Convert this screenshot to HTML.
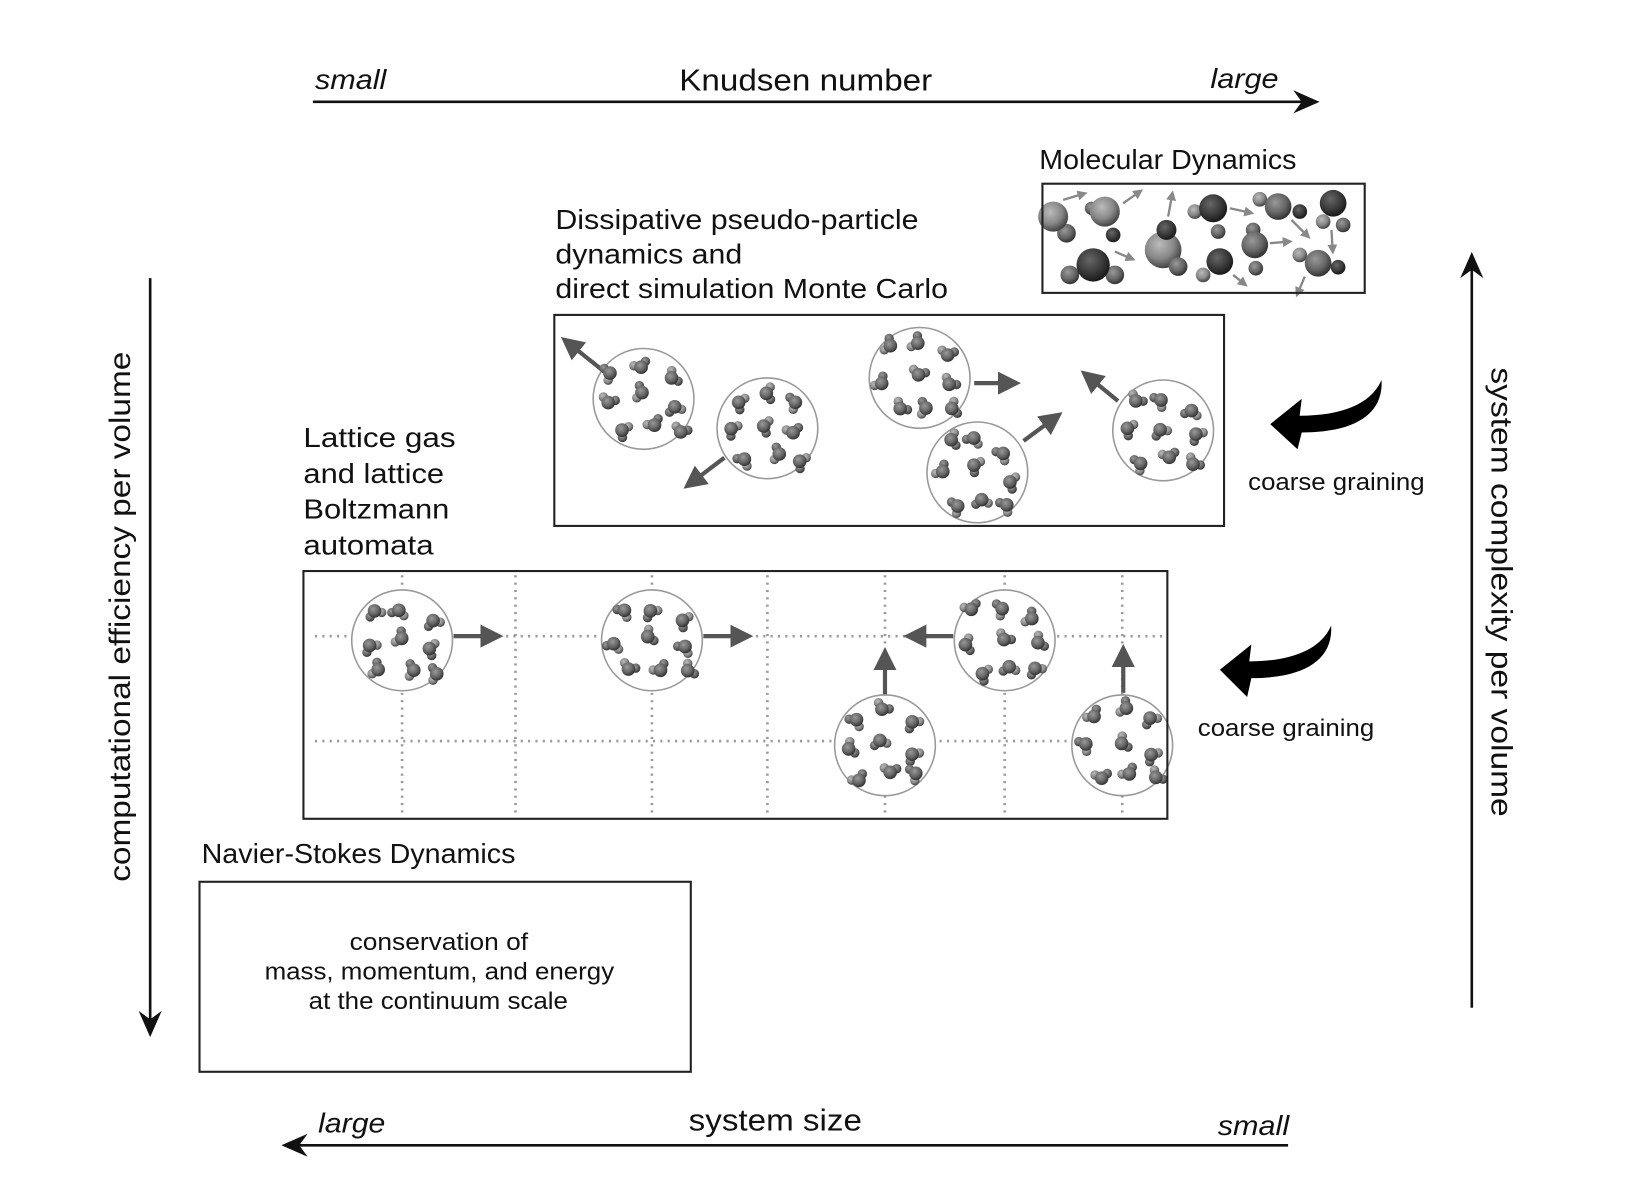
<!DOCTYPE html>
<html><head><meta charset="utf-8"><style>
html,body{margin:0;padding:0;background:#fff}
svg{display:block}
text{font-family:"Liberation Sans",sans-serif;fill:#111}
</style></head><body>
<svg id="s" xmlns="http://www.w3.org/2000/svg" width="1644" height="1203" viewBox="0 0 1566 1146">
<defs>
<radialGradient id="gL" cx="0.4" cy="0.35" r="0.65"><stop offset="0" stop-color="#bbb"/><stop offset="0.6" stop-color="#888"/><stop offset="1" stop-color="#444"/></radialGradient>
<radialGradient id="gM" cx="0.4" cy="0.35" r="0.65"><stop offset="0" stop-color="#999"/><stop offset="0.6" stop-color="#666"/><stop offset="1" stop-color="#333"/></radialGradient>
<radialGradient id="gD" cx="0.4" cy="0.35" r="0.65"><stop offset="0" stop-color="#666"/><stop offset="0.6" stop-color="#3a3a3a"/><stop offset="1" stop-color="#1a1a1a"/></radialGradient>
<marker id="ah2" viewBox="0 0 10 10" markerWidth="22" markerHeight="22" refX="2" refY="5" orient="auto" markerUnits="userSpaceOnUse"><path d="M0,0 L10,5 L0,10 Z" fill="#555"/></marker>
<marker id="ah3" viewBox="0 0 10 10" markerWidth="30" markerHeight="30" refX="2" refY="5" orient="auto" markerUnits="userSpaceOnUse"><path d="M0,0 L10,5 L0,10 Z" fill="#888"/></marker>
</defs>

<!-- top axis -->
<line x1="298" y1="97" x2="1250" y2="97" stroke="#111" stroke-width="2.5"/>
<path d="M1232,86 L1257,97 L1232,108 L1240,97 Z" fill="#111"/>
<text x="300" y="85" font-size="26" font-style="italic" textLength="68" lengthAdjust="spacingAndGlyphs">small</text>
<text x="647" y="86" font-size="29" textLength="241" lengthAdjust="spacingAndGlyphs">Knudsen number</text>
<text x="1153" y="84" font-size="26" font-style="italic" textLength="65" lengthAdjust="spacingAndGlyphs">large</text>

<!-- bottom axis -->
<line x1="1227" y1="1091" x2="275" y2="1091" stroke="#111" stroke-width="2.5"/>
<path d="M293,1080 L268,1091 L293,1102 L285,1091 Z" fill="#111"/>
<text x="303" y="1079" font-size="26" font-style="italic" textLength="64" lengthAdjust="spacingAndGlyphs">large</text>
<text x="656" y="1077" font-size="29" textLength="165" lengthAdjust="spacingAndGlyphs">system size</text>
<text x="1160" y="1081" font-size="26" font-style="italic" textLength="68" lengthAdjust="spacingAndGlyphs">small</text>

<!-- left axis -->
<line x1="143" y1="265" x2="143" y2="980" stroke="#111" stroke-width="2.5"/>
<path d="M132,963 L143,988 L154,963 L143,971 Z" fill="#111"/>
<text transform="translate(124,840) rotate(-90)" font-size="28" textLength="505" lengthAdjust="spacingAndGlyphs">computational efficiency per volume</text>

<!-- right axis -->
<line x1="1402" y1="960" x2="1402" y2="250" stroke="#111" stroke-width="2.5"/>
<path d="M1391,265 L1402,240 L1413,265 L1402,257 Z" fill="#111"/>
<text transform="translate(1421,350) rotate(90)" font-size="28" textLength="428" lengthAdjust="spacingAndGlyphs">system complexity per volume</text>

<!-- MD -->
<text x="990" y="161" font-size="26" textLength="245" lengthAdjust="spacingAndGlyphs">Molecular Dynamics</text>
<g id="md"></g>
<rect x="993" y="175" width="307" height="104" fill="none" stroke="#222" stroke-width="2"/>

<!-- DPD -->
<text x="529" y="218" font-size="26" textLength="346" lengthAdjust="spacingAndGlyphs">Dissipative pseudo-particle</text>
<text x="529" y="251" font-size="26" textLength="178" lengthAdjust="spacingAndGlyphs">dynamics and</text>
<text x="529" y="284" font-size="26" textLength="374" lengthAdjust="spacingAndGlyphs">direct simulation Monte Carlo</text>
<rect x="528" y="300" width="638" height="201" fill="none" stroke="#222" stroke-width="2"/>

<!-- LB -->
<text x="289" y="426" font-size="26" textLength="145" lengthAdjust="spacingAndGlyphs">Lattice gas</text>
<text x="289" y="460" font-size="26" textLength="134" lengthAdjust="spacingAndGlyphs">and lattice</text>
<text x="289" y="494" font-size="26" textLength="139" lengthAdjust="spacingAndGlyphs">Boltzmann</text>
<text x="289" y="528" font-size="26" textLength="124" lengthAdjust="spacingAndGlyphs">automata</text>
<g stroke="#999" stroke-width="2.5" stroke-dasharray="2,5">
<line x1="300" y1="606" x2="1108" y2="606"/>
<line x1="300" y1="706" x2="1108" y2="706"/>
<line x1="383" y1="548" x2="383" y2="778"/>
<line x1="491" y1="548" x2="491" y2="778"/>
<line x1="621" y1="548" x2="621" y2="778"/>
<line x1="731" y1="548" x2="731" y2="778"/>
<line x1="843" y1="548" x2="843" y2="778"/>
<line x1="957" y1="548" x2="957" y2="778"/>
<line x1="1069" y1="548" x2="1069" y2="778"/>
</g>
<g id="circ"></g>
<rect x="289" y="544" width="823" height="236" fill="none" stroke="#222" stroke-width="2"/>

<!-- NS -->
<text x="192" y="822" font-size="26" textLength="299" lengthAdjust="spacingAndGlyphs">Navier-Stokes Dynamics</text>
<rect x="190" y="840" width="468" height="181" fill="none" stroke="#222" stroke-width="2"/>
<text x="333" y="905" font-size="23" textLength="170" lengthAdjust="spacingAndGlyphs">conservation of</text>
<text x="252" y="933" font-size="23" textLength="333" lengthAdjust="spacingAndGlyphs">mass, momentum, and energy</text>
<text x="294" y="961" font-size="23" textLength="247" lengthAdjust="spacingAndGlyphs">at the continuum scale</text>

<!-- coarse graining arrows -->
<path d="M1316,362 C1318,395 1290,412 1240,412 L1236,428 L1210,404 L1240,380 L1238,396 C1278,396 1306,385 1316,362 Z" fill="#000"/>
<text x="1189" y="467" font-size="23" textLength="168" lengthAdjust="spacingAndGlyphs">coarse graining</text>
<path d="M1268,596 C1270,629 1242,646 1192,646 L1188,664 L1162,638 L1192,614 L1190,630 C1230,630 1258,619 1268,596 Z" fill="#000"/>
<text x="1141" y="701" font-size="23" textLength="168" lengthAdjust="spacingAndGlyphs">coarse graining</text>
</svg>
<script>
var NS="http://www.w3.org/2000/svg";
function el(p,t,a){var e=document.createElementNS(NS,t);for(var k in a)e.setAttribute(k,a[k]);p.appendChild(e);return e;}
var seed=7;function rnd(){seed=(seed*16807)%2147483647;return (seed-1)/2147483646;}
var circ=document.getElementById('circ');
var cs=[[613,380],[731,408],[876,360],[931,450],[1108,410],[383,610],[621,610],[957,610],[843,710],[1069,710]];
var arrows=[[573,352,548,332],[690,436,665,455],[928,365,955,365],[975,420,998,403],[1065,382,1043,364],
[432,606,462,606],[670,606,700,606],[908,606,878,606],[843,662,843,634],[1070,660,1070,631]];
arrows.forEach(function(a){el(circ,'line',{x1:a[0],y1:a[1],x2:a[2],y2:a[3],stroke:'#555','stroke-width':4,'marker-end':'url(#ah2)'});});
var offs=[[-28,-28],[0,-32],[28,-22],[-34,2],[-4,-4],[28,6],[-22,30],[8,28],[32,30]];
cs.forEach(function(c){
 el(circ,'circle',{cx:c[0],cy:c[1],r:48,fill:'#fff',stroke:'#999','stroke-width':1.5});
 offs.forEach(function(o){
  var x=c[0]+o[0]+(rnd()-0.5)*8,y=c[1]+o[1]+(rnd()-0.5)*8,an=rnd()*6.28;
  el(circ,'circle',{cx:x+Math.cos(an)*7,cy:y+Math.sin(an)*7,r:4.5,fill:'url(#gL)'});
  el(circ,'circle',{cx:x+Math.cos(an+2)*7,cy:y+Math.sin(an+2)*7,r:4.5,fill:'url(#gM)'});
  el(circ,'circle',{cx:x,cy:y,r:6.5,fill:'url(#gM)'});
 });
});
var md=document.getElementById('md');
var g=el(md,'g',{transform:'translate(990.5,171.4) scale(0.3175)'});
var mols=[
[[80,160,28,'gM'],[40,110,45,'gL']],
[[155,85,20,'gM'],[220,165,22,'gD'],[195,95,45,'gL']],
[[90,285,28,'gM'],[225,285,28,'gM'],[160,255,50,'gD']],
[[370,210,55,'gL'],[380,150,30,'gD'],[415,260,28,'gM']],
[[465,95,22,'gL'],[535,155,22,'gM'],[520,85,42,'gD']],
[[490,285,22,'gL'],[540,245,40,'gD']],
[[640,150,22,'gM'],[648,265,22,'gM'],[645,195,40,'gM']],
[[660,58,22,'gL'],[780,95,22,'gD'],[715,80,40,'gM']],
[[850,125,22,'gL'],[910,135,22,'gM'],[880,70,40,'gD']],
[[780,225,22,'gL'],[895,262,22,'gD'],[835,250,40,'gM']]];
mols.forEach(function(m){m.forEach(function(s){el(g,'circle',{cx:s[0],cy:s[1],r:s[2],fill:'url(#'+s[3]+')'});});});
var ma=[[70,60,120,45],[250,70,290,42],[385,110,395,55],[225,215,265,232],[570,85,620,96],[580,285,605,305],[690,190,735,186],[755,120,795,160],[875,150,878,200],[795,290,778,330]];
ma.forEach(function(a){el(g,'line',{x1:a[0],y1:a[1],x2:a[2],y2:a[3],stroke:'#888','stroke-width':7,'marker-end':'url(#ah3)'});});
</script>
</body></html>
